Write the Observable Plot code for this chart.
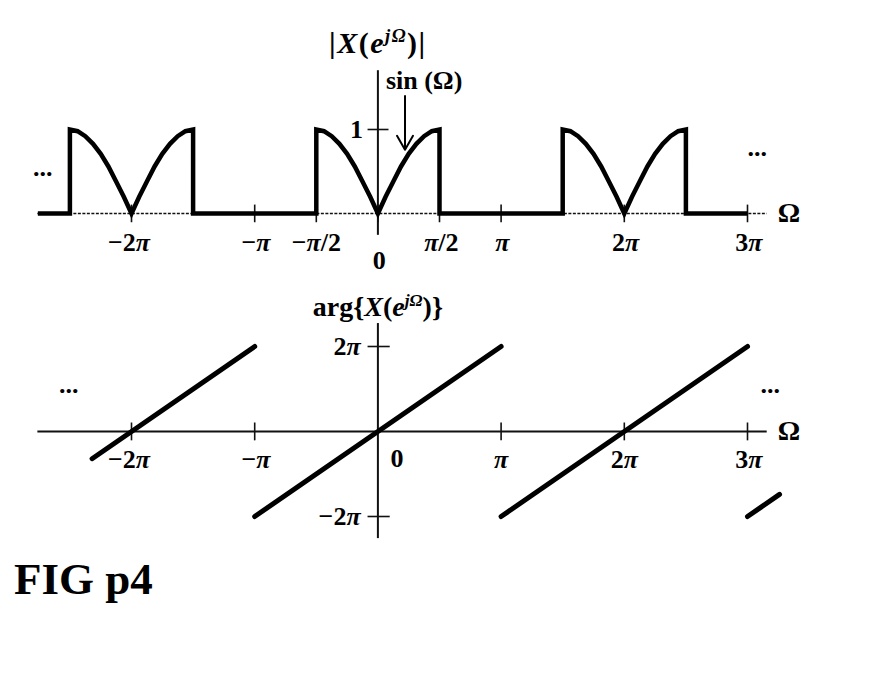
<!DOCTYPE html>
<html>
<head>
<meta charset="utf-8">
<script src="https://cdn.jsdelivr.net/npm/d3@7"></script>
<script src="https://cdn.jsdelivr.net/npm/@observablehq/plot@0.6"></script>
<style>
  body { margin: 0; background: #fff; }
  #wrap { position: relative; width: 870px; height: 678px; background: #fff; }
  #topChart, #botChart { position: absolute; left: 0; }
  #topChart { top: 0; }
  #botChart { top: 280px; }
  #cap { position: absolute; left: 14px; top: 557px; font: bold 45px "Liberation Serif", serif; line-height: 45px; color: #000; white-space: nowrap; }
</style>
</head>
<body>
<div id="wrap">
  <div id="topChart"></div>
  <div id="botChart"></div>
  <div id="cap">FIG p4</div>
</div>
<script>
// ---------- data (x positions in units of π) ----------
// magnitude |X(e^jΩ)|: humps centred at multiples of 2π, nonzero for |Ω-2πk| < π/2
const humpCentersPi = [-2, 0, 2];
const humpOffsetPi = [-0.5, -0.5, -0.4375, -0.375, -0.3125, -0.25, -0.1875, -0.125, -0.0625, 0,
                      0.0625, 0.125, 0.1875, 0.25, 0.3125, 0.375, 0.4375, 0.5, 0.5];
const humpMag = [0, 1, 0.98, 0.92, 0.83, 0.71, 0.56, 0.38, 0.2, 0,
                 0.2, 0.38, 0.56, 0.71, 0.83, 0.92, 0.98, 1, 0];
const magStartPi = -2.76;
const magEndPi = 3.0;

// phase arg{X(e^jΩ)} segments (x and y in units of π)
const phaseX1 = [-2.32, -1, 1, 3];
const phaseX2 = [-1, 1, 3, 3.26];
const phaseY1 = [-0.64, -2, -2, -2];
const phaseY2 = [2, 2, 2, -1.48];

// axis ticks & labels
const topTicks = [-2, -1, -0.5, 0, 0.5, 1, 2, 3];
const topTickLabels = ["−2π", "−π", "−π/2", "π/2", "π", "2π", "3π"];
const topTickLabelX = [-2.02, -0.99, -0.5, 0.515, 1.01, 2.01, 3.01];
const botTicks = [-2, -1, 1, 2, 3];
const botTickLabels = ["−2π", "−π", "π", "2π", "3π"];
const botTickLabelX = [-2.02, -0.99, 1.0, 2.0, 3.01];
const botYTicks = [2, -2];
const botYTickLabels = ["2π", "−2π"];

// ---------- build tables ----------
const magPts = [{x: magStartPi, y: 0}];
humpCentersPi.forEach(c => humpOffsetPi.forEach((o, i) => magPts.push({x: c + o, y: humpMag[i]})));
magPts.push({x: magEndPi, y: 0});

const phaseSegs = phaseX1.map((x, i) => ({x1: x, x2: phaseX2[i], y1: phaseY1[i], y2: phaseY2[i]}));

const FONT = "Liberation Serif, Times New Roman, serif";
const txt = (data, opts) => Plot.text(data, {fontFamily: FONT, fontWeight: "bold", fill: "#000", ...opts});

const xScale = {domain: [-2, 3], range: [131, 747]};

// ---------- top: magnitude ----------
const topPlot = Plot.plot({
  width: 870, height: 280,
  x: xScale,
  y: {domain: [0, 1], range: [213, 129]},
  axis: null,
  marks: [
    Plot.ruleY([0], {x1: -2.76, x2: 3.16, stroke: "#111", strokeWidth: 1.5, strokeDasharray: "3,1.5"}),
    Plot.ruleX([0], {y1: -0.26, y2: 1.70, stroke: "#111", strokeWidth: 2}),
    Plot.ruleX(topTicks, {x: d => d, y1: -0.11, y2: 0.1, stroke: "#111", strokeWidth: 1.6}),
    Plot.ruleY([1], {y: d => d, x1: -0.08, x2: 0.09, stroke: "#111", strokeWidth: 1.6}),
    Plot.line(magPts, {x: "x", y: "y", stroke: "#000", strokeWidth: 4.5, strokeLinejoin: "miter", strokeMiterlimit: 4, strokeLinecap: "butt"}),
    Plot.arrow([{x1: 0.22, y1: 1.40, x2: 0.22, y2: 0.76}], {x1: "x1", y1: "y1", x2: "x2", y2: "y2", stroke: "#000", strokeWidth: 2, headLength: 12}),
    txt(topTickLabels, {x: (d, i) => topTickLabelX[i], y: -0.345, text: d => d, fontSize: 26, textAnchor: "middle", lineAnchor: "middle"}),
    txt(["0"], {x: 0.01, y: -0.56, text: d => d, fontSize: 26, textAnchor: "middle", lineAnchor: "middle"}),
    txt(["1"], {x: -0.12, y: 1.0, text: d => d, fontSize: 26, textAnchor: "end", lineAnchor: "middle"}),
    txt(["|_{X}(_{e}^{jΩ})|"], {x: 0, y: 2.02, text: d => d, fontSize: 30, textAnchor: "middle", lineAnchor: "middle"}),
    txt(["sin (Ω)"], {x: 0.065, y: 1.58, text: d => d, fontSize: 26, textAnchor: "start", lineAnchor: "middle"}),
    txt(["Ω"], {x: 3.245, y: 0, text: d => d, fontSize: 28, textAnchor: "start", lineAnchor: "middle"}),
    txt(["...", "..."], {x: (d, i) => [-2.72, 3.08][i], y: (d, i) => [0.55, 0.78][i], text: d => d, fontSize: 26, textAnchor: "middle", lineAnchor: "middle"})
  ]
});

// ---------- bottom: phase ----------
const botPlot = Plot.plot({
  width: 870, height: 280,
  x: xScale,
  y: {domain: [-2, 2], range: [236, 66]},
  axis: null,
  marks: [
    Plot.ruleY([0], {x1: -2.76, x2: 3.16, stroke: "#111", strokeWidth: 1.8}),
    Plot.ruleX([0], {y1: -2.52, y2: 2.54, stroke: "#111", strokeWidth: 2}),
    Plot.ruleX(botTicks, {x: d => d, y1: -0.22, y2: 0.2, stroke: "#111", strokeWidth: 1.6}),
    Plot.ruleY(botYTicks, {y: d => d, x1: -0.08, x2: 0.1, stroke: "#111", strokeWidth: 1.6}),
    Plot.link(phaseSegs, {x1: "x1", y1: "y1", x2: "x2", y2: "y2", stroke: "#000", strokeWidth: 5, strokeLinecap: "round"}),
    txt(botTickLabels, {x: (d, i) => botTickLabelX[i], y: -0.66, text: d => d, fontSize: 26, textAnchor: "middle", lineAnchor: "middle"}),
    txt(["0"], {x: 0.155, y: -0.64, text: d => d, fontSize: 26, textAnchor: "middle", lineAnchor: "middle"}),
    txt(botYTickLabels, {x: -0.14, y: (d, i) => botYTicks[i], text: d => d, fontSize: 26, textAnchor: "end", lineAnchor: "middle"}),
    txt(["arg{_{X}(_{e}^{jΩ})}"], {x: 0, y: 2.92, text: d => d, fontSize: 28, textAnchor: "middle", lineAnchor: "middle"}),
    txt(["Ω"], {x: 3.245, y: 0, text: d => d, fontSize: 28, textAnchor: "start", lineAnchor: "middle"}),
    txt(["...", "..."], {x: (d, i) => [-2.51, 3.185][i], y: 1.1, text: d => d, fontSize: 26, textAnchor: "middle", lineAnchor: "middle"})
  ]
});

document.getElementById("topChart").appendChild(topPlot);
document.getElementById("botChart").appendChild(botPlot);

// ---------- rich text: _{..} italic, ^{..} superscript, π italic ----------
function richify(svg) {
  d3.select(svg).selectAll("text").each(function () {
    const el = this;
    const raw = el.textContent;
    if (!/[_^]\{|π/.test(raw)) return;
    const size = parseFloat(getComputedStyle(el).fontSize) || 26;
    if (raw.startsWith("|")) el.setAttribute("letter-spacing", "1.5");
    const parts = raw.split(/(\^\{[^}]*\}|_\{[^}]*\}|π)/).filter(s => s !== "");
    while (el.firstChild) el.removeChild(el.firstChild);
    let raised = false;
    parts.forEach(p => {
      const t = document.createElementNS("http://www.w3.org/2000/svg", "tspan");
      if (p.startsWith("^{")) {
        t.textContent = p.slice(2, -1);
        t.setAttribute("font-size", size * 0.62);
        t.setAttribute("dy", -size * 0.38);
        t.setAttribute("font-style", "italic");
        raised = true;
      } else {
        if (p.startsWith("_{")) { t.textContent = p.slice(2, -1); t.setAttribute("font-style", "italic"); }
        else if (p === "π") { t.textContent = p; t.setAttribute("font-style", "italic"); }
        else t.textContent = p;
        if (raised) { t.setAttribute("dy", size * 0.38); raised = false; }
      }
      el.appendChild(t);
    });
  });
}
richify(topPlot);
richify(botPlot);
</script>
</body>
</html>
